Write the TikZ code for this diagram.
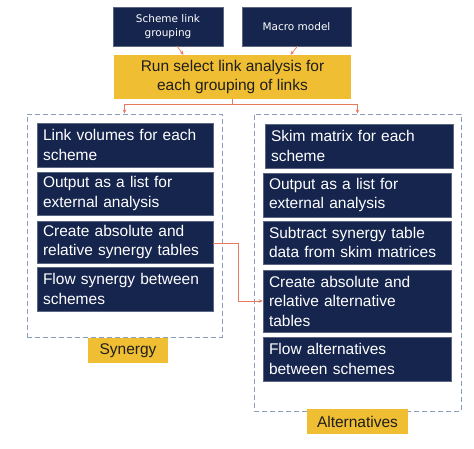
\documentclass[tikz,border=0pt]{standalone}
\usepackage{fontspec}
\setmainfont{Liberation Sans}
\newfontfamily\topfont{DejaVu Sans}
\usetikzlibrary{arrows.meta,calc}
\definecolor{navy}{HTML}{16254D}
\definecolor{gold}{HTML}{F0BE32}
\definecolor{conn}{HTML}{E8785E}
\definecolor{dashc}{HTML}{8C9DBB}
\definecolor{darktxt}{HTML}{1E1E1E}
\begin{document}
\begin{tikzpicture}[x=1pt,y=-1pt,
  navybox/.style={fill=navy,draw=navy!70!white,line width=0.4pt,text=white,inner sep=0pt,
     font=\fontsize{15.5}{19.5}\selectfont,align=left,anchor=center},
  topbox/.style={fill=navy,draw=navy!70!white,line width=0.4pt,text=white,inner sep=0pt,
     font=\topfont\fontsize{10.5}{14}\selectfont,align=center,anchor=center},
  goldbox/.style={fill=gold,draw=none,text=darktxt,inner sep=0pt,
     font=\fontsize{15.5}{19.5}\selectfont,align=center,anchor=center},
  group/.style={draw=dashc,line width=0.9pt,dash pattern=on 5pt off 3pt,fill=none,inner sep=0pt},
  arr/.style={draw=conn,line width=0.7pt,-{Stealth[length=4pt,width=3.5pt]}},
  ln/.style={draw=conn,line width=0.7pt}]
\useasboundingbox (0,0) rectangle (474,448);
\fill[white] (0,0) rectangle (474,448);

% group frames
\node[group,minimum width=195pt,minimum height=223pt] (gl) at (124.5,225.5) {};
\node[group,minimum width=207pt,minimum height=297pt] (gr) at (357.5,262.5) {};

% top boxes
\node[topbox,minimum width=110pt,minimum height=39pt] (scheme) at (168,26.5) {Scheme link\\grouping};
\node[topbox,minimum width=109pt,minimum height=39pt] (macro) at (296.5,26.5) {Macro model};
\node[goldbox,minimum width=237pt,minimum height=44pt] (run) at (232.5,77) {Run select link analysis for\\each grouping of links};

% left column
\node[navybox,minimum width=176pt,minimum height=44pt,text width=164pt] (l1) at (125,145) {Link volumes for each\\scheme};
\node[navybox,minimum width=176pt,minimum height=43pt,text width=164pt] (l2) at (125,193.5) {Output as a list for\\external analysis};
\node[navybox,minimum width=176pt,minimum height=42pt,text width=164pt] (l3) at (125,242) {Create absolute and\\relative synergy tables};
\node[navybox,minimum width=176pt,minimum height=44pt,text width=164pt] (l4) at (125,289) {Flow synergy between\\schemes};

% right column
\node[navybox,minimum width=188pt,minimum height=44pt,text width=176pt] (r1) at (359,146) {Skim matrix for each\\scheme};
\node[navybox,minimum width=188pt,minimum height=44pt,text width=176pt] (r2) at (357,195) {Output as a list for\\external analysis};
\node[navybox,minimum width=188pt,minimum height=43pt,text width=176pt] (r3) at (357,242.5) {Subtract synergy table\\data from skim matrices};
\node[navybox,minimum width=188pt,minimum height=62pt,text width=176pt] (r4) at (357,301) {Create absolute and\\relative alternative\\tables};
\node[navybox,minimum width=188pt,minimum height=44pt,text width=176pt] (r5) at (357,359) {Flow alternatives\\between schemes};

% labels
\node[goldbox,minimum width=80pt,minimum height=25pt] (syn) at (128,350.5) {Synergy};
\node[goldbox,minimum width=101pt,minimum height=25pt] (alt) at (357.5,421.5) {Alternatives};

% connectors
\draw[arr] ([xshift=9pt]scheme.south) -- ([xshift=-49pt]run.north);
\draw[arr] ([xshift=1pt]macro.south) -- ([xshift=58pt]run.north);
\coordinate (split) at ($(run.south)+(0,5)$);
\draw[ln] (run.south) -- (split);
\draw[arr] (split) -| (gl.north);
\draw[arr] (split) -| (gr.north);
\coordinate (bend) at ($(l3.east)+(25,1)$);
\draw[ln] ($(l3.east)+(0,1)$) -- (bend);
\draw[arr] (bend) |- (r4.west);
\end{tikzpicture}
\end{document}
